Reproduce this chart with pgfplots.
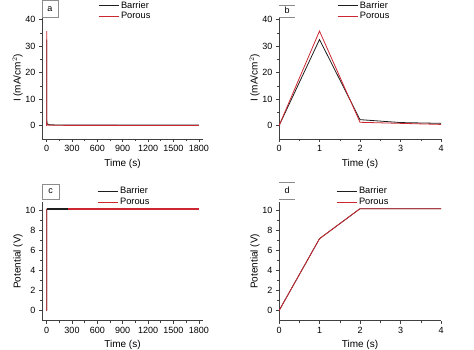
\documentclass[border=0pt]{standalone}
\usepackage{fontspec}
\setmainfont{Liberation Sans}
\usepackage{pgfplots}
\pgfplotsset{compat=1.18}
\definecolor{por}{RGB}{205,40,50}
\definecolor{bar}{RGB}{30,30,30}
\pgfplotsset{
 panel/.style={scale only axis, axis x line=bottom, axis y line=left,
  axis line style={-, black!75, line width=0.6pt}, tick align=outside,
  tick style={black!75, line width=0.5pt}, major tick length=3pt, minor tick length=2pt, minor tick num=1,
  /pgf/number format/assume math mode=true, /pgf/number format/1000 sep={},
  tick label style={font=\fontsize{9}{10}\selectfont},
  label style={font=\fontsize{10}{11}\selectfont},
  every axis plot/.append style={line width=0.8pt},
  legend style={draw=none, fill=none, font=\fontsize{9.3}{10}\selectfont, inner sep=0pt,
   row sep=-1.5pt, anchor=north west, cells={anchor=west}},
  legend image code/.code={\draw[##1] (0pt,0pt) -- (20pt,0pt);},
  xlabel={Time (s)}, xlabel shift=0pt, ylabel shift=-4pt,
 },
}
\begin{document}
\begin{tikzpicture}[x=1pt,y=1pt]
\useasboundingbox (0,0) rectangle (474,349);
% panel a
\begin{axis}[panel, at={(42pt,210pt)}, anchor=south west, width=161pt, height=122pt,
 xmin=-55, xmax=1850, ymin=-5, ymax=41, xtick={0,300,...,1800}, ytick={0,10,...,40},
 ylabel={I (mA/cm$^{2}$)},
 legend style={at={(0.348,1.145)}}]
\addplot[bar] coordinates {(0,0) (1,32.5) (2,2.3) (3,1.2) (4,0.9) (10,0.7) (30,0.4) (100,0.3) (1800,0.25)};
\addlegendentry{Barrier}
\addplot[por] coordinates {(0,0) (1,35.7) (2,1.3) (3,0.9) (4,0.5) (10,0.3) (30,0.2) (100,0.15) (1800,0.1)};
\addlegendentry{Porous}
\end{axis}
% panel b
\begin{axis}[panel, at={(279pt,210pt)}, anchor=south west, width=162pt, height=122pt,
 xmin=0, xmax=4, ymin=-5, ymax=41, xtick={0,1,...,4}, ytick={0,10,...,40},
 ylabel={I (mA/cm$^{2}$)},
 legend style={at={(0.358,1.145)}}]
\addplot[bar] coordinates {(0,0) (1,32.5) (2,2.3) (3,1.2) (4,0.9)};
\addlegendentry{Barrier}
\addplot[por] coordinates {(0,0) (1,35.7) (2,1.3) (3,0.9) (4,0.5)};
\addlegendentry{Porous}
\end{axis}
% panel c
\begin{axis}[panel, at={(42pt,28.3pt)}, anchor=south west, width=161pt, height=119pt,
 xmin=-55, xmax=1850, ymin=-1, ymax=10.9, xtick={0,300,...,1800}, ytick={0,2,...,10},
 ylabel={Potential (V)},
 legend style={at={(0.342,1.14)}}]
\addplot[bar] coordinates {(0,0) (1,7.2) (2,10.15) (1800,10.15)};
\addlegendentry{Barrier}
\addplot[por] coordinates {(0,0) (1,7.2) (2,10.15) (1800,10.15)};
\addlegendentry{Porous}
\addplot[bar, line width=2.4pt, forget plot] coordinates {(2,10.15) (1800,10.15)};
\addplot[por, line width=2.4pt, forget plot] coordinates {(2,10.15) (1800,10.15)};
\addplot[bar, line width=2.4pt, forget plot] coordinates {(2,10.15) (250,10.15)};
\end{axis}
% panel d
\begin{axis}[panel, at={(279pt,28.3pt)}, anchor=south west, width=162pt, height=119pt,
 xmin=0, xmax=4, ymin=-1, ymax=10.9, xtick={0,1,...,4}, ytick={0,2,...,10},
 ylabel={Potential (V)},
 legend style={at={(0.352,1.14)}}]
\addplot[bar] coordinates {(0,0) (1,7.2) (2,10.2) (4,10.2)};
\addlegendentry{Barrier}
\addplot[por] coordinates {(0,0) (1,7.2) (2,10.2) (4,10.2)};
\addlegendentry{Porous}
\end{axis}
% panel letters
\draw[black!45, line width=0.5pt] (42,332) rectangle (58,349);
\node[font=\fontsize{9}{10}\selectfont] at (50,340) {a};
\draw[black!45, line width=0.5pt] (279,344) -- (295,344) (279,332) -- (295,332);
\node[font=\fontsize{9}{10}\selectfont] at (287,339) {b};
\draw[black!45, line width=0.5pt] (42,150) rectangle (59,165);
\node[font=\fontsize{9}{10}\selectfont] at (50.5,157.5) {c};
\draw[black!45, line width=0.5pt] (279,167) -- (295,167) (279,150) -- (295,150);
\node[font=\fontsize{9}{10}\selectfont] at (287,158.5) {d};
\end{tikzpicture}
\end{document}
